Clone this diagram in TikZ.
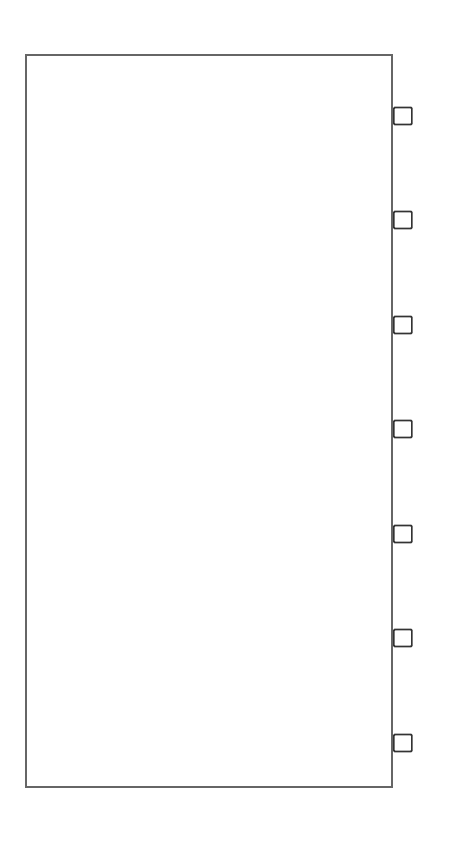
\documentclass[tikz,border=0pt]{standalone}
\begin{document}
\begin{tikzpicture}[x=1pt,y=-1pt,
  body/.style={draw=black!60,line width=2pt},
  port/.style={draw=black!80,line width=1.7pt,rounded corners=1pt,fill=white,minimum width=18pt,minimum height=17pt,inner sep=0pt,anchor=west}]
\useasboundingbox[fill=white] (0,0) rectangle (474,851);
\node[body,minimum width=366pt,minimum height=732pt,inner sep=0pt,anchor=north west] (box) at (25,54) {};
\foreach \i/\y in {1/116,2/220,3/325,4/429,5/534,6/638,7/743}{
  \node[port] (p\i) at (box.east |- 0,\y) {};
}
\end{tikzpicture}
\end{document}
